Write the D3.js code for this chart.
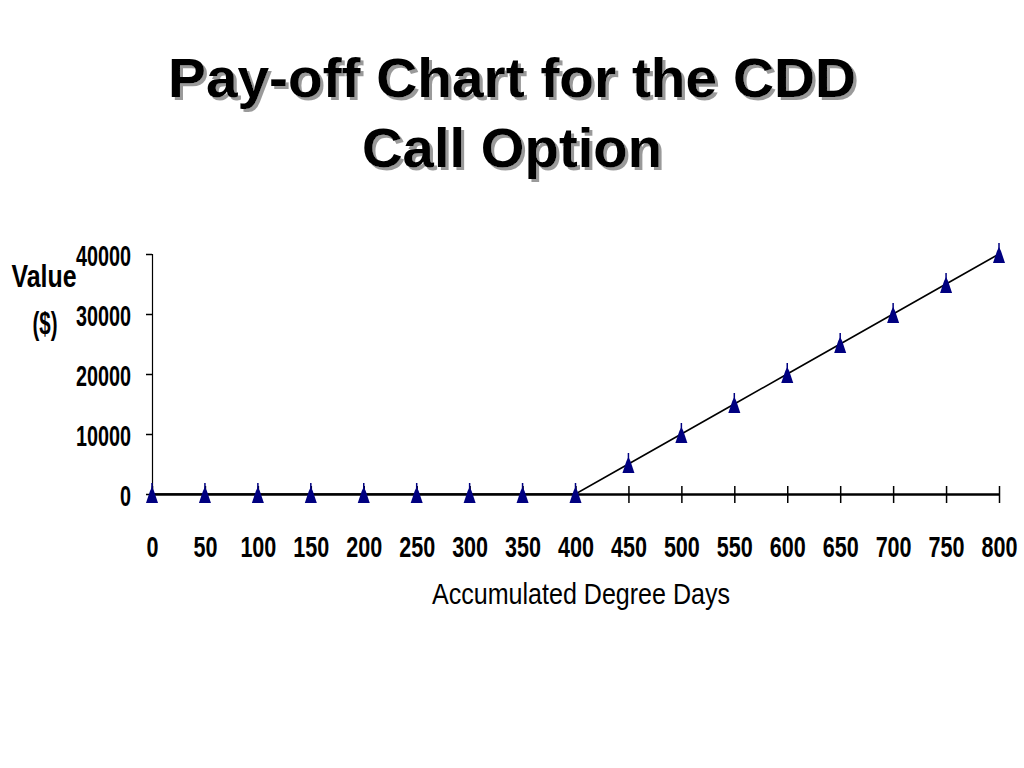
<!DOCTYPE html>
<html><head><meta charset="utf-8">
<script src="https://cdn.jsdelivr.net/npm/d3@7"></script>
<style>body{margin:0;background:#fff}</style>
</head><body>
<svg id="c" width="1024" height="768">
  <defs>
    <filter id="shadow" x="-5%" y="-20%" width="115%" height="150%">
      <feFlood flood-color="#9a9a9a" result="f"/>
      <feComposite in="f" in2="SourceAlpha" operator="in" result="s"/>
      <feOffset in="s" dx="3" dy="3" result="o"/>
      <feMerge><feMergeNode in="o"/><feMergeNode in="SourceGraphic"/></feMerge>
    </filter>
  </defs>
</svg>
<script>
const degreeDays = [0,50,100,150,200,250,300,350,400,450,500,550,600,650,700,750,800];
const payoff = [0,0,0,0,0,0,0,0,0,5000,10000,15000,20000,25000,30000,35000,40000];
const yTicks = [0,10000,20000,30000,40000];
const titleLines = ["Pay-off Chart for the CDD","Call Option"];
const xLabel = "Accumulated Degree Days";
const yLabel = ["Value","($)"];

const svg = d3.select("#c");
const x = d3.scaleLinear().domain([0,800]).range([152,999]);
const y = d3.scaleLinear().domain([0,40000]).range([494,254]);
const narrow = "'Liberation Sans Narrow','Arial Narrow','Liberation Sans',Arial,sans-serif";

// title
const tw = [688, 300];
const tb = [97, 167];
titleLines.forEach((t,i)=>{
  svg.append("text").attr("x",512).attr("y",tb[i])
    .attr("text-anchor","middle")
    .attr("font-family","'Liberation Sans',Arial,sans-serif")
    .attr("font-weight","bold").attr("font-size",55)
    .attr("textLength",tw[i]).attr("lengthAdjust","spacingAndGlyphs")
    .attr("filter","url(#shadow)")
    .attr("fill","#000").text(t);
});

const fmt = d3.format("d");
// y axis
const yAxis = d3.axisLeft(y).tickValues(yTicks).tickSize(6).tickFormat(fmt);
const gy = svg.append("g").attr("transform","translate(152,0)").call(yAxis);
gy.select(".domain").attr("stroke","#000").attr("stroke-width",1.2);
gy.selectAll(".tick line").attr("stroke","#000").attr("stroke-width",1.5);
gy.selectAll(".tick text").attr("font-family",narrow).attr("font-size",30)
  .attr("font-weight","bold").attr("fill","#000").attr("x",-21).attr("dy",0).attr("y",11)
  .attr("textLength",d=>fmt(d).length*11).attr("lengthAdjust","spacingAndGlyphs");

// x axis
const xAxis = d3.axisBottom(x).tickValues(degreeDays).tickSize(0).tickFormat(fmt);
const gx = svg.append("g").attr("transform","translate(0,494)").call(xAxis);
gx.select(".domain").attr("stroke","#000").attr("stroke-width",2.5);
gx.selectAll(".tick").append("line").attr("y1",-8).attr("y2",9).attr("stroke","#000").attr("stroke-width",1.5);
gx.selectAll(".tick text").attr("font-family",narrow).attr("font-size",30)
  .attr("font-weight","bold").attr("fill","#000").attr("y",63).attr("dy",0)
  .attr("textLength",d=>fmt(d).length*12).attr("lengthAdjust","spacingAndGlyphs");

// axis titles
svg.append("text").attr("x",581).attr("y",604).attr("text-anchor","middle")
  .attr("font-family",narrow).attr("font-size",29).attr("fill","#000")
  .attr("textLength",298).attr("lengthAdjust","spacingAndGlyphs").text(xLabel);
svg.append("text").attr("x",44).attr("y",287).attr("text-anchor","middle")
  .attr("font-family",narrow).attr("font-size",31).attr("font-weight","bold").attr("fill","#000")
  .attr("textLength",65).attr("lengthAdjust","spacingAndGlyphs").text(yLabel[0]);
svg.append("text").attr("x",45).attr("y",334).attr("text-anchor","middle")
  .attr("font-family",narrow).attr("font-size",31).attr("font-weight","bold").attr("fill","#000")
  .attr("textLength",25).attr("lengthAdjust","spacingAndGlyphs").text(yLabel[1]);

// line
const pts = degreeDays.map((d,i)=>[d,payoff[i]]);
svg.append("path").datum(pts)
  .attr("d",d3.line().x(d=>x(d[0])).y(d=>y(d[1])))
  .attr("fill","none").attr("stroke","#000").attr("stroke-width",1.6);

// markers
const mk = svg.append("g").selectAll("g").data(pts).join("g")
  .attr("transform",d=>`translate(${x(d[0])},${y(d[1])})`);
mk.append("path").attr("d","M-6,9 L6,9 L2,-3 L0,-7 L-2,-3 Z").attr("fill","#000080");
mk.append("line").attr("y1",-11).attr("y2",-4).attr("stroke","#000080").attr("stroke-width",1.5);
</script>
</body></html>
